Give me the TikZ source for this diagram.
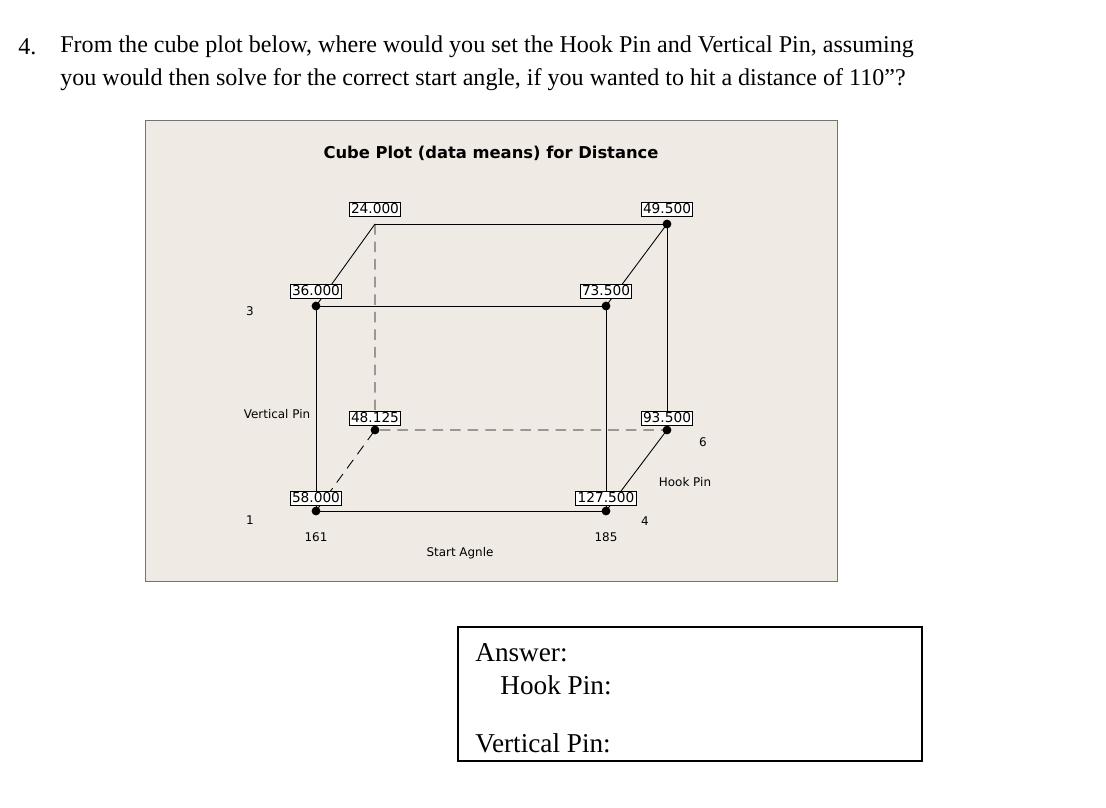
\documentclass[tikz,border=0pt]{standalone}
\usepackage{fontspec}
\setmainfont{Liberation Serif}
\newfontfamily\plotfont{DejaVu Sans}
\newfontfamily\titlefont{DejaVu Sans}
\begin{document}
\begin{tikzpicture}[x=0.02cm,y=-0.02cm,
  val/.style={draw,fill=white,line width=0.5pt,inner sep=1pt,font=\plotfont\fontsize{7.8}{9}\selectfont},
  lab/.style={font=\plotfont\fontsize{6.8}{8}\selectfont,inner sep=0pt},
  dot/.style={circle,fill=black,inner sep=0pt,minimum size=5pt},
  q/.style={font=\fontsize{13.7}{16}\selectfont,inner sep=0pt,anchor=west},
  a/.style={font=\fontsize{15.5}{18}\selectfont,inner sep=0pt,anchor=west}]
\useasboundingbox (0,0) rectangle (1106,808);
\node[q] (n4) at (18,47) {4.};
\node[q] (q1) at (60,47) {From the cube plot below, where would you set the Hook Pin and Vertical Pin, assuming};
\node[q] (q2) at (60,80) {you would then solve for the correct start angle, if you wanted to hit a distance of 110”?};
\draw[draw=black!55,fill={rgb,255:red,239;green,235;blue,228}] (145,120) rectangle (837,581);
\node[font=\titlefont\bfseries\fontsize{9.3}{11}\selectfont] (t) at (491,153) {Cube Plot (data means) for Distance};
\coordinate (a) at (316,306); \coordinate (b) at (606,306);
\coordinate (c) at (316,511); \coordinate (d) at (606,511);
\coordinate (e) at (375,224); \coordinate (f) at (667,224);
\coordinate (g) at (375,430); \coordinate (h) at (667,430);
\draw[line width=0.5pt] (a) -- (b) -- (d) -- (c) -- cycle;
\draw[line width=0.5pt] (e) -- (f) -- (h);
\draw[line width=0.5pt] (a) -- (e) (b) -- (f) (d) -- (h);
\draw[line width=0.5pt,dash pattern=on 6pt off 4pt] (e) -- (g) -- (h) (c) -- (g);
\foreach \p in {a,b,c,d,f,g,h} \node[dot] at (\p) {};
\node[val] (va) at (316,291) {36.000};
\node[val] (vb) at (606,291) {73.500};
\node[val] (ve) at (375,209) {24.000};
\node[val] (vf) at (667,209) {49.500};
\node[val] (vg) at (375,418) {48.125};
\node[val] (vh) at (667,418) {93.500};
\node[val] (vc) at (316,498) {58.000};
\node[val] (vd) at (606,498) {127.500};
\node[lab] (l3) at (250,311) {3};
\node[lab] (l1) at (250,520) {1};
\node[lab] (lv) at (277,414) {Vertical Pin};
\node[lab] (l161) at (316,537) {161};
\node[lab] (l185) at (606,537) {185};
\node[lab] (ls) at (460,553) {Start Agnle};
\node[lab] (l4) at (645,521) {4};
\node[lab] (l6) at (703,442) {6};
\node[lab] (lh) at (685,482) {Hook Pin};
\draw[line width=0.8pt] (458,627) rectangle (922,761);
\node[a] (ans) at (475,653) {Answer:};
\node[a] (hp) at (500,685) {Hook Pin:};
\node[a] (vp) at (475,743) {Vertical Pin:};
\end{tikzpicture}
\end{document}
